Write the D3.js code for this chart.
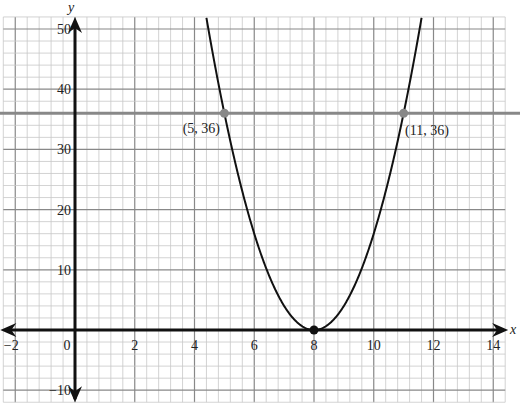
<!DOCTYPE html><html><head><script src="https://cdn.jsdelivr.net/npm/d3@7"></script>
<style>body{margin:0;background:#fff}text{font-family:"Liberation Serif","Times New Roman","DejaVu Serif",serif;font-size:14px;fill:#222}</style></head><body>
<svg id="c" width="520" height="403"></svg>
<script>
const xTicks=[-2,2,4,6,8,10,12,14];
const yTicks=[10,20,30,40,50];
const points=[[5,36],[11,36]];
const vertex=[8,0];
const lineY=36;
const svg=d3.select("#c");
const x=d3.scaleLinear().domain([0,8]).range([75,314]);
const y=d3.scaleLinear().domain([0,50]).range([330,29]);
const gx0=-2.4,gx1=14.4,gy0=-12,gy1=52;
for(let i=0;i<=Math.round((gx1-gx0)/0.4);i++){const v=gx0+i*0.4;const maj=Math.abs(v/2-Math.round(v/2))<1e-6;
svg.append("line").attr("x1",x(v)).attr("x2",x(v)).attr("y1",y(gy1)).attr("y2",y(gy0)).attr("stroke",maj?"#888":"#c8c8c8").attr("stroke-width",maj?1.2:0.8);}
for(let v=gy0;v<=gy1+1e-9;v+=2){const maj=v%10===0;
svg.append("line").attr("y1",y(v)).attr("y2",y(v)).attr("x1",x(gx0)).attr("x2",x(gx1)).attr("stroke",maj?"#888":"#c8c8c8").attr("stroke-width",maj?1.2:0.8);}
svg.append("line").attr("x1",0).attr("x2",520).attr("y1",y(lineY)).attr("y2",y(lineY)).attr("stroke","#888").attr("stroke-width",3);
svg.append("line").attr("x1",x(-2.3)).attr("x2",x(14.3)).attr("y1",y(0)).attr("y2",y(0)).attr("stroke","#111").attr("stroke-width",3);
svg.append("line").attr("x1",x(0)).attr("x2",x(0)).attr("y1",y(51)).attr("y2",y(-11.5)).attr("stroke","#111").attr("stroke-width",3);
const arrow=(px,py,ang)=>svg.append("path").attr("d","M0,0 L-16,-7 L-11,0 L-16,7 Z").attr("fill","#111").attr("transform",`translate(${px},${py}) rotate(${ang})`);
arrow(x(14.5),y(0),0);arrow(x(-2.5),y(0),180);arrow(x(0),y(52),-90);arrow(x(0),y(-12),90);
const f=t=>4*(t-8)**2;
const cd=d3.range(4.2,11.8,0.02).map(t=>[t,f(t)]).filter(d=>d[1]<=52);
svg.append("defs").append("clipPath").attr("id","cl").append("rect").attr("x",0).attr("y",y(52)).attr("width",520).attr("height",400);
svg.append("path").datum(cd).attr("d",d3.line().x(d=>x(d[0])).y(d=>y(d[1]))).attr("fill","none").attr("stroke","#111").attr("stroke-width",2).attr("clip-path","url(#cl)");
points.forEach(p=>svg.append("circle").attr("cx",x(p[0])).attr("cy",y(p[1])).attr("r",4.5).attr("fill","#888"));
svg.append("circle").attr("cx",x(vertex[0])).attr("cy",y(vertex[1])).attr("r",4.5).attr("fill","#111");
xTicks.forEach(v=>svg.append("text").attr("x",x(v)+(v<0?-4:0)).attr("y",y(0)+20).attr("text-anchor","middle").text(v<0?"\u2212"+(-v):v));
svg.append("text").attr("x",x(0)-8).attr("y",y(0)+20).attr("text-anchor","middle").text("0");
yTicks.forEach(v=>svg.append("text").attr("x",x(0)-4).attr("y",y(v)+5).attr("text-anchor","end").text(v));
svg.append("text").attr("x",x(0)-4).attr("y",y(-10)+5).attr("text-anchor","end").text("\u221210");
svg.append("text").attr("x",220).attr("y",133).attr("text-anchor","end").text("(5, 36)");
svg.append("text").attr("x",405).attr("y",135).text("(11, 36)");
svg.append("text").attr("x",510).attr("y",334).style("font-style","italic").text("x");
svg.append("text").attr("x",68).attr("y",12).style("font-style","italic").text("y");
</script></body></html>
